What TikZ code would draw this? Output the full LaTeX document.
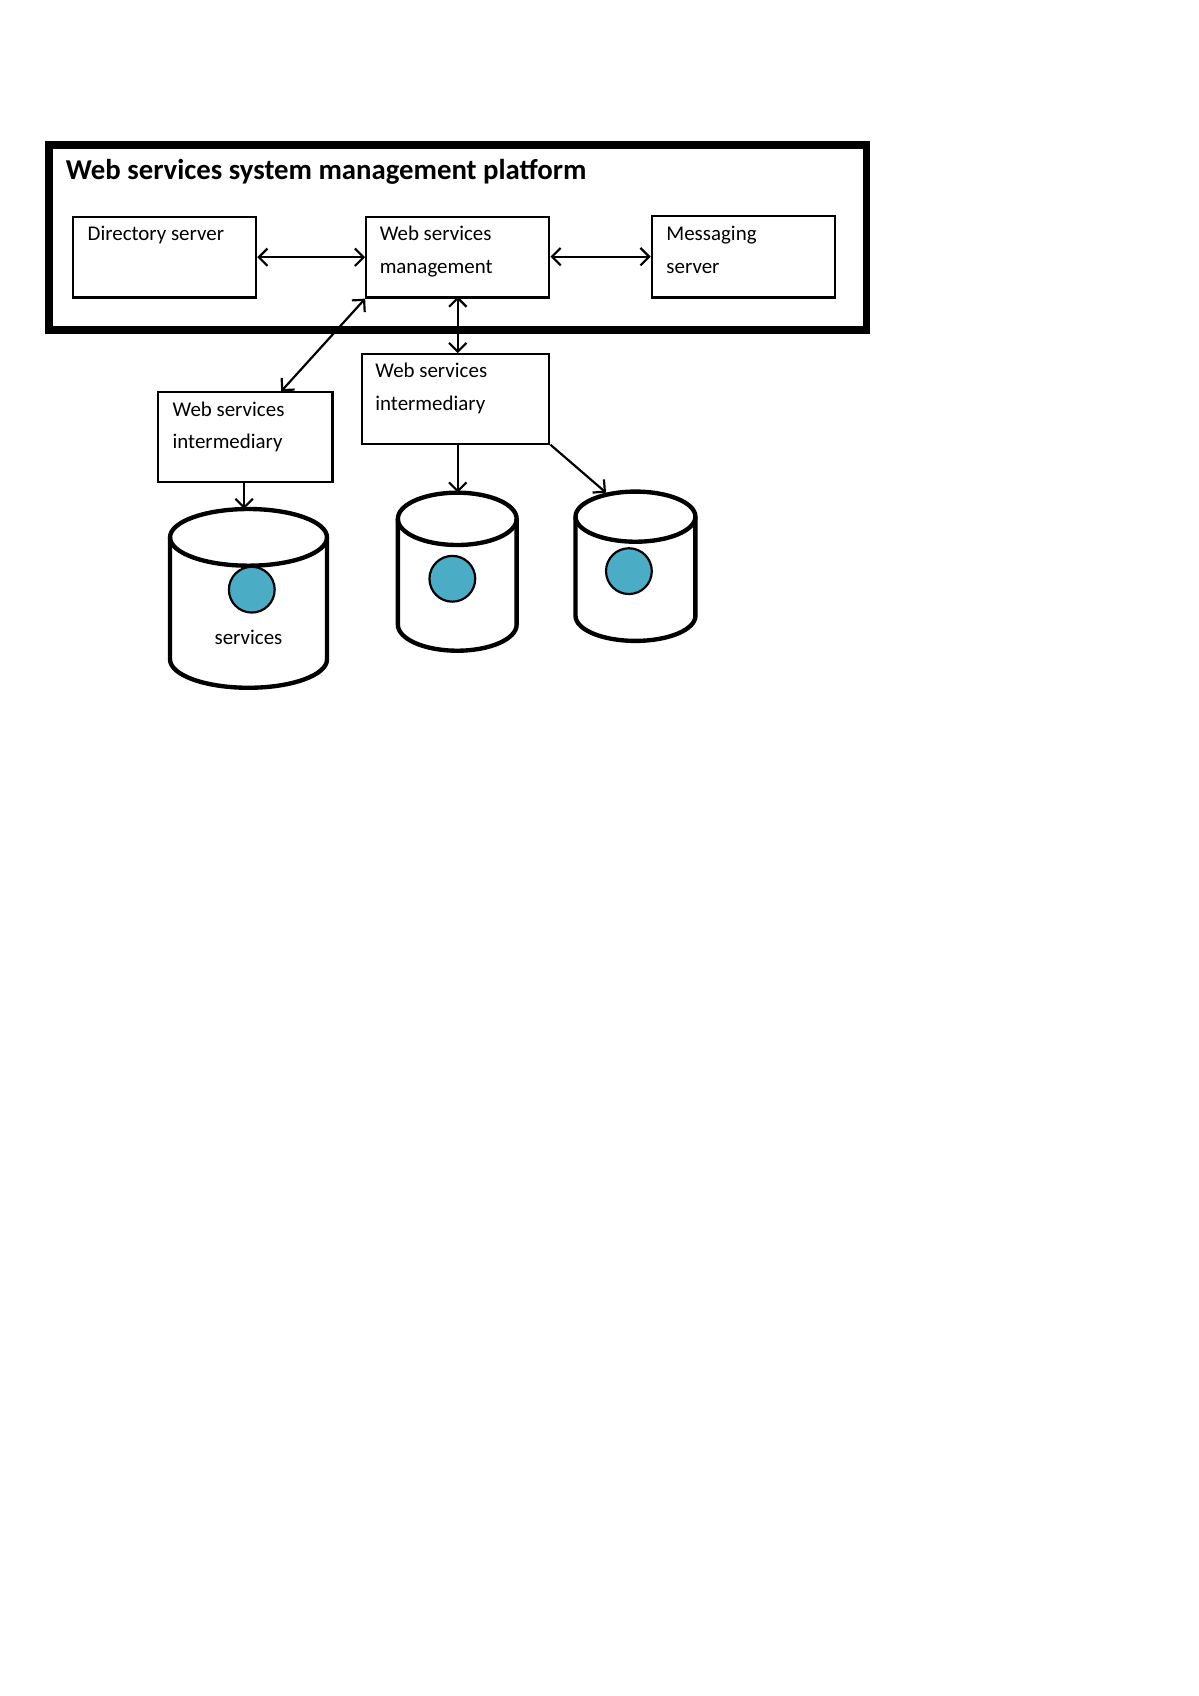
\documentclass[tikz,border=0pt]{standalone}
\usepackage{fontspec}
\setmainfont{Carlito}
\usetikzlibrary{arrows.meta}
\begin{document}
\begin{tikzpicture}[x=0.5pt,y=-0.5pt,
  bx/.style={draw,line width=1pt,fill=white},
  lbl/.style={anchor=north west,align=left,font=\fontsize{9.6}{15}\selectfont,inner sep=0pt},
  arr/.style={line width=1pt,-{Straight Barb[length=4pt]}},
  darr/.style={line width=1pt,{Straight Barb[length=4pt]}-{Straight Barb[length=4pt]}},
  cyl/.style={draw,line width=2pt,fill=white},
  dot/.style={draw,line width=1pt,fill={rgb,255:red,75;green,172;blue,198}}]
\useasboundingbox (0,0) rectangle (1100,1556);
\draw[line width=3.5pt] (45,133) rectangle (795,303);
\node[anchor=north west,font=\bfseries\fontsize{13.2}{15}\selectfont,inner sep=0pt] (title) at (60,146) {Web services system management platform};
\node[bx,minimum width=84pt,minimum height=37pt,anchor=north west] (dir) at (66,198) {};
\node[lbl] at (80,207) {Directory server};
\node[bx,minimum width=84pt,minimum height=37pt,anchor=north west] (wsm) at (335,198) {};
\node[lbl] at (348,207) {Web services\\management};
\node[bx,minimum width=84pt,minimum height=37.5pt,anchor=north west] (msg) at (597,197) {};
\node[lbl] at (611,207) {Messaging\\server};
\node[bx,minimum width=80pt,minimum height=41pt,anchor=north west] (int1) at (144,359) {};
\node[lbl] at (158,368) {Web services\\intermediary};
\node[bx,minimum width=86pt,minimum height=41pt,anchor=north west] (int2) at (331,324) {};
\node[lbl] at (344,333) {Web services\\intermediary};
\draw[darr] (dir.east) -- (wsm.west |- dir.east);
\draw[darr] (wsm.east |- msg.west) -- (msg.west);
\draw[darr] (wsm.south west) -- (258,359);
\draw[darr] (420,272) -- (420,324);
\coordinate (c1t) at (224,467);
\coordinate (c2t) at (420,452);
\coordinate (c3t) at (556,452);
\draw[arr] (224,441) -- (c1t);
\draw[arr] (420,406) -- (c2t);
\draw[arr] (int2.south east) -- (c3t);
% cylinders
\draw[cyl] (156,493) -- (156,605) arc[start angle=180,end angle=0,x radius=72,y radius=26] -- (300,493) arc[start angle=0,end angle=-180,x radius=72,y radius=26];
\draw[line width=2pt] (156,493) arc[start angle=180,end angle=0,x radius=72,y radius=26];
\draw[dot] (231,541) circle[radius=21];
\node[font=\fontsize{9.6}{11}\selectfont] (svc) at (228,585) {services};
\draw[cyl] (365,476) -- (365,573) arc[start angle=180,end angle=0,x radius=54.5,y radius=24] -- (474,476) arc[start angle=0,end angle=-180,x radius=54.5,y radius=24];
\draw[line width=2pt] (365,476) arc[start angle=180,end angle=0,x radius=54.5,y radius=24];
\draw[dot] (415,531) circle[radius=21];
\draw[cyl] (528,474) -- (528,565) arc[start angle=180,end angle=0,x radius=55,y radius=23] -- (638,474) arc[start angle=0,end angle=-180,x radius=55,y radius=23];
\draw[line width=2pt] (528,474) arc[start angle=180,end angle=0,x radius=55,y radius=23];
\draw[dot] (577,524) circle[radius=21];
\end{tikzpicture}
\end{document}
